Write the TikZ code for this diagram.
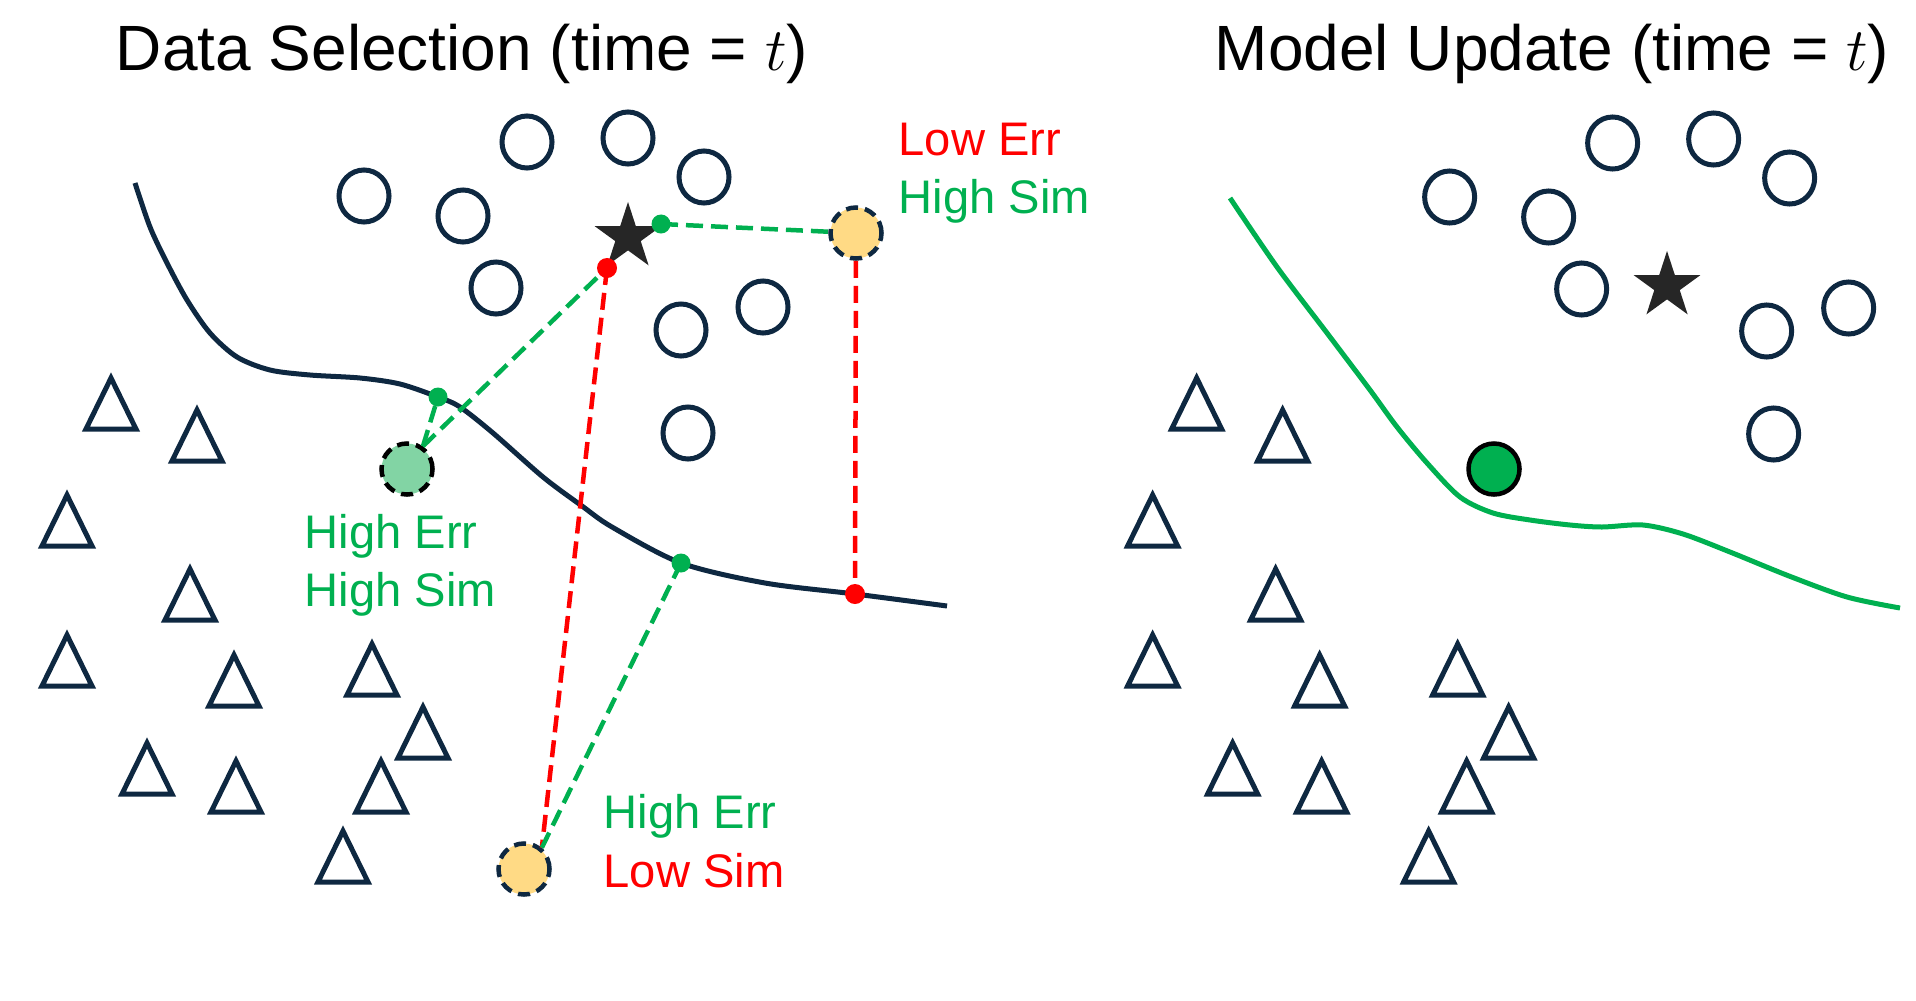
\documentclass[tikz,border=0pt]{standalone}
\usepackage{fontspec}
\setmainfont{Liberation Sans}
\usetikzlibrary{shapes.geometric}

\definecolor{navy}{HTML}{0E2841}
\definecolor{selgreen}{HTML}{00B050}
\definecolor{selred}{HTML}{FF0000}
\definecolor{candyellow}{HTML}{FFDA85}
\definecolor{candgreen}{HTML}{82D4A4}
\definecolor{stargray}{HTML}{262626}

% sample positions (pixels, y downwards)
\def\circlelist{527/142, 628/138, 704/177, 364/196, 463/216, 496/288, 681/330, 763/307, 688/433}
\def\trianglelist{111/372, 197/404, 67/489, 190/563, 67/629, 234/649, 372/638, 423/701, 147/737, 236/755, 381/755, 343/825}

\begin{document}
\begin{tikzpicture}[
    x=0.01cm, y=-0.01cm,
    sample/.style={
        ellipse,
        draw=navy,
        line width=0.05cm,
        minimum width=0.5cm,
        minimum height=0.52cm,
        inner sep=0pt
    },
    tri/.style={
        draw=navy,
        line width=0.05cm,
        line join=miter
    },
    query/.style={
        star,
        star points=5,
        star point ratio=2.618,
        fill=stargray,
        minimum size=0.7cm,
        inner sep=0pt
    },
    cand/.style={
        circle,
        draw=navy,
        line width=0.045cm,
        dash pattern=on 0.12cm off 0.07cm,
        minimum size=0.51cm,
        inner sep=0pt
    },
    gdot/.style={
        circle,
        fill=selgreen,
        minimum size=0.19cm,
        inner sep=0pt
    },
    rdot/.style={
        circle,
        fill=selred,
        minimum size=0.2cm,
        inner sep=0pt
    },
    link/.style={
        line width=0.045cm,
        dash pattern=on 0.17cm off 0.08cm
    },
    title/.style={
        font=\fontsize{18.2}{22}\selectfont,
        anchor=base,
        inner sep=0pt
    },
    lbl/.style={
        font=\fontsize{13.4}{16}\selectfont,
        anchor=base west,
        inner sep=0pt
    }
]
\useasboundingbox (0,0) rectangle (1916,1000);

% Titles
\node[title] (seltitle) at (462,70) {Data Selection (time = $t$)};
\node[title] (updtitle) at (1552,70) {Model Update (time = $t$)};

% Data selection panel
\foreach \cx/\cy [count=\i] in \circlelist
    \node[sample] (s\i) at (\cx,\cy) {};
\foreach \ax/\ay in \trianglelist
    \draw[tri] (\ax,\ay+6) -- ++(-25,51) -- ++(50,0) -- cycle;
\draw[navy, line width=0.05cm] plot[smooth] coordinates {(135,183) (150,227) (167,263) (187,300) (210,333) (237,357) (270,370) (310,375) (360,378) (400,384) (438,397) (460,407) (493,433) (543,477) (582,506) (612,527) (681,563) (765,583) (855,594) (947,606)};
\node[query] (qsel) at (628,237) {};

\node[cand, fill=candyellow] (ytop) at (856,233) {};
\node[cand, fill=candyellow] (ybot) at (524,869) {};
\node[cand, draw=black, fill=candgreen] (lg) at (407,469) {};

% Distances
\draw[link, selgreen] (661,224) -- (ytop);
\draw[link, selred] (ytop) -- (855,594);
\draw[link, selgreen] (lg.55) -- (438,397);
\draw[link, selgreen] (lg.55) -- (607,268);
\draw[link, selred] (607,268) -- (ybot.50);
\draw[link, selgreen] (681,563) -- (ybot.50);

\node[gdot] (gstar) at (661,224) {};
\node[rdot] (rstar) at (607,268) {};
\node[gdot] (gb1) at (438,397) {};
\node[gdot] (gb2) at (681,563) {};
\node[rdot] (rb) at (855,594) {};

% Labels
\node[lbl, selred] (lowerrA) at (898,155) {Low Err};
\node[lbl, selgreen] (highsimA) at (898,213) {High Sim};
\node[lbl, selgreen] (higherrB) at (304,548) {High Err};
\node[lbl, selgreen] (highsimB) at (304,606) {High Sim};
\node[lbl, selgreen] (higherrC) at (603,828) {High Err};
\node[lbl, selred] (lowsimC) at (603,887) {Low Sim};

% Model update panel
\begin{scope}[xshift=10.85cm]
\foreach \cx/\cy [count=\i] in \circlelist
    \node[sample] (u\i) at (\cx,\cy+1) {};
\foreach \ax/\ay in \trianglelist
    \draw[tri] (\ax,\ay+6) -- ++(-25,51) -- ++(50,0) -- cycle;
\end{scope}
\draw[selgreen, line width=0.05cm] plot[smooth] coordinates {(1230,198) (1277,267) (1327,333) (1370,390) (1397,427) (1427,463) (1460,497) (1493,513) (1530,520) (1570,525) (1602,527) (1643,525) (1683,534) (1730,552) (1789,576) (1847,597) (1900,608)};
\node[query] (qupd) at (1667,286) {};
\node[circle, fill=selgreen, draw=black, line width=0.045cm, minimum size=0.51cm, inner sep=0pt] (picked) at (1494,469) {};

\end{tikzpicture}
\end{document}
